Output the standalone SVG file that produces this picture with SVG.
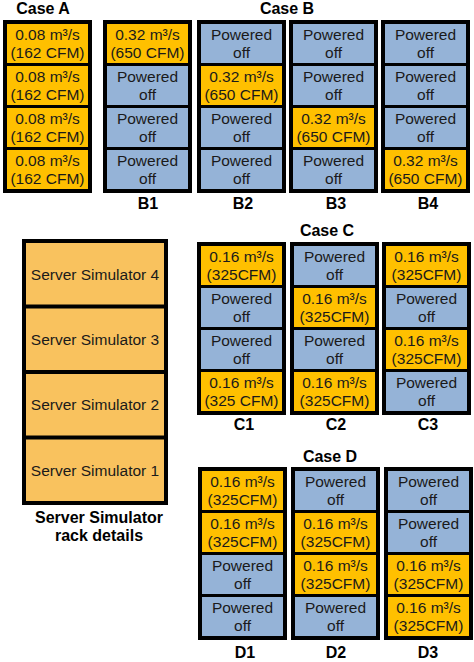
<svg xmlns="http://www.w3.org/2000/svg" width="474" height="662" viewBox="0 0 474 662">
<style>
.rack{fill:#000}
.o{fill:#FFC000}
.b{fill:#95B3D7}
.s{fill:#F9C25E}
.t{font-family:"Liberation Sans",Arial,sans-serif;font-size:15.5px;fill:#1a1a1a;text-anchor:middle}
.h{font-family:"Liberation Sans",Arial,sans-serif;font-size:16px;font-weight:bold;fill:#000;text-anchor:middle}
</style>
<rect width="474" height="662" fill="#fff"/>
<g id="titles">
<text class="h" x="43" y="14">Case A</text>
<text class="h" x="287" y="14">Case B</text>
<text class="h" x="327" y="236">Case C</text>
<text class="h" x="330" y="462">Case D</text>
<text class="h" x="148" y="209">B1</text>
<text class="h" x="243" y="209">B2</text>
<text class="h" x="336" y="209">B3</text>
<text class="h" x="428" y="209">B4</text>
<text class="h" x="244" y="430">C1</text>
<text class="h" x="336" y="430">C2</text>
<text class="h" x="428" y="430">C3</text>
<text class="h" x="245" y="658">D1</text>
<text class="h" x="336" y="658">D2</text>
<text class="h" x="428" y="658">D3</text>
<text class="h" x="99" y="523">Server Simulator</text>
<text class="h" x="99" y="541">rack details</text>
</g>
<g id="rackA">
<rect class="rack" x="3" y="20" width="89" height="173"/>
<rect class="o" x="7" y="24" width="81" height="39"/><text class="t" x="47.5" y="40">0.08 m³/s</text><text class="t" x="47.5" y="58">(162 CFM)</text>
<rect class="o" x="7" y="66" width="81" height="39"/><text class="t" x="47.5" y="82">0.08 m³/s</text><text class="t" x="47.5" y="100">(162 CFM)</text>
<rect class="o" x="7" y="108" width="81" height="39"/><text class="t" x="47.5" y="124">0.08 m³/s</text><text class="t" x="47.5" y="142">(162 CFM)</text>
<rect class="o" x="7" y="150" width="81" height="39"/><text class="t" x="47.5" y="166">0.08 m³/s</text><text class="t" x="47.5" y="184">(162 CFM)</text>
</g>
<g id="rackB1">
<rect class="rack" x="103" y="20" width="89" height="173"/>
<rect class="o" x="107" y="24" width="81" height="39"/><text class="t" x="147.5" y="40">0.32 m³/s</text><text class="t" x="147.5" y="58">(650 CFM)</text>
<rect class="b" x="107" y="66" width="81" height="39"/><text class="t" x="147.5" y="82">Powered</text><text class="t" x="147.5" y="100">off</text>
<rect class="b" x="107" y="108" width="81" height="39"/><text class="t" x="147.5" y="124">Powered</text><text class="t" x="147.5" y="142">off</text>
<rect class="b" x="107" y="150" width="81" height="39"/><text class="t" x="147.5" y="166">Powered</text><text class="t" x="147.5" y="184">off</text>
</g>
<g id="rackB2">
<rect class="rack" x="197" y="20" width="89" height="173"/>
<rect class="b" x="201" y="24" width="81" height="39"/><text class="t" x="241.5" y="40">Powered</text><text class="t" x="241.5" y="58">off</text>
<rect class="o" x="201" y="66" width="81" height="39"/><text class="t" x="241.5" y="82">0.32 m³/s</text><text class="t" x="241.5" y="100">(650 CFM)</text>
<rect class="b" x="201" y="108" width="81" height="39"/><text class="t" x="241.5" y="124">Powered</text><text class="t" x="241.5" y="142">off</text>
<rect class="b" x="201" y="150" width="81" height="39"/><text class="t" x="241.5" y="166">Powered</text><text class="t" x="241.5" y="184">off</text>
</g>
<g id="rackB3">
<rect class="rack" x="289" y="20" width="89" height="173"/>
<rect class="b" x="293" y="24" width="81" height="39"/><text class="t" x="333.5" y="40">Powered</text><text class="t" x="333.5" y="58">off</text>
<rect class="b" x="293" y="66" width="81" height="39"/><text class="t" x="333.5" y="82">Powered</text><text class="t" x="333.5" y="100">off</text>
<rect class="o" x="293" y="108" width="81" height="39"/><text class="t" x="333.5" y="124">0.32 m³/s</text><text class="t" x="333.5" y="142">(650 CFM)</text>
<rect class="b" x="293" y="150" width="81" height="39"/><text class="t" x="333.5" y="166">Powered</text><text class="t" x="333.5" y="184">off</text>
</g>
<g id="rackB4">
<rect class="rack" x="381" y="20" width="89" height="173"/>
<rect class="b" x="385" y="24" width="81" height="39"/><text class="t" x="425.5" y="40">Powered</text><text class="t" x="425.5" y="58">off</text>
<rect class="b" x="385" y="66" width="81" height="39"/><text class="t" x="425.5" y="82">Powered</text><text class="t" x="425.5" y="100">off</text>
<rect class="b" x="385" y="108" width="81" height="39"/><text class="t" x="425.5" y="124">Powered</text><text class="t" x="425.5" y="142">off</text>
<rect class="o" x="385" y="150" width="81" height="39"/><text class="t" x="425.5" y="166">0.32 m³/s</text><text class="t" x="425.5" y="184">(650 CFM)</text>
</g>
<g id="rackSim">
<rect class="rack" x="22" y="239" width="146" height="266"/>
<rect class="s" x="26" y="243" width="138" height="61.5"/><text class="t" x="95" y="280">Server Simulator 4</text>
<rect class="s" x="26" y="308.5" width="138" height="61.5"/><text class="t" x="95" y="345">Server Simulator 3</text>
<rect class="s" x="26" y="374" width="138" height="61.5"/><text class="t" x="95" y="410">Server Simulator 2</text>
<rect class="s" x="26" y="439.5" width="138" height="61.5"/><text class="t" x="95" y="476">Server Simulator 1</text>
</g>
<g id="rackC1">
<rect class="rack" x="197" y="242" width="89" height="173"/>
<rect class="o" x="201" y="246" width="81" height="39"/><text class="t" x="241.5" y="262">0.16 m³/s</text><text class="t" x="241.5" y="280">(325CFM)</text>
<rect class="b" x="201" y="288" width="81" height="39"/><text class="t" x="241.5" y="304">Powered</text><text class="t" x="241.5" y="322">off</text>
<rect class="b" x="201" y="330" width="81" height="39"/><text class="t" x="241.5" y="346">Powered</text><text class="t" x="241.5" y="364">off</text>
<rect class="o" x="201" y="372" width="81" height="39"/><text class="t" x="241.5" y="388">0.16 m³/s</text><text class="t" x="241.5" y="406">(325 CFM)</text>
</g>
<g id="rackC2">
<rect class="rack" x="290" y="242" width="89" height="173"/>
<rect class="b" x="294" y="246" width="81" height="39"/><text class="t" x="334.5" y="262">Powered</text><text class="t" x="334.5" y="280">off</text>
<rect class="o" x="294" y="288" width="81" height="39"/><text class="t" x="334.5" y="304">0.16 m³/s</text><text class="t" x="334.5" y="322">(325CFM)</text>
<rect class="b" x="294" y="330" width="81" height="39"/><text class="t" x="334.5" y="346">Powered</text><text class="t" x="334.5" y="364">off</text>
<rect class="o" x="294" y="372" width="81" height="39"/><text class="t" x="334.5" y="388">0.16 m³/s</text><text class="t" x="334.5" y="406">(325CFM)</text>
</g>
<g id="rackC3">
<rect class="rack" x="382" y="242" width="89" height="173"/>
<rect class="o" x="386" y="246" width="81" height="39"/><text class="t" x="426.5" y="262">0.16 m³/s</text><text class="t" x="426.5" y="280">(325CFM)</text>
<rect class="b" x="386" y="288" width="81" height="39"/><text class="t" x="426.5" y="304">Powered</text><text class="t" x="426.5" y="322">off</text>
<rect class="o" x="386" y="330" width="81" height="39"/><text class="t" x="426.5" y="346">0.16 m³/s</text><text class="t" x="426.5" y="364">(325CFM)</text>
<rect class="b" x="386" y="372" width="81" height="39"/><text class="t" x="426.5" y="388">Powered</text><text class="t" x="426.5" y="406">off</text>
</g>
<g id="rackD1">
<rect class="rack" x="198" y="467" width="89" height="173"/>
<rect class="o" x="202" y="471" width="81" height="39"/><text class="t" x="242.5" y="487">0.16 m³/s</text><text class="t" x="242.5" y="505">(325CFM)</text>
<rect class="o" x="202" y="513" width="81" height="39"/><text class="t" x="242.5" y="529">0.16 m³/s</text><text class="t" x="242.5" y="547">(325CFM)</text>
<rect class="b" x="202" y="555" width="81" height="39"/><text class="t" x="242.5" y="571">Powered</text><text class="t" x="242.5" y="589">off</text>
<rect class="b" x="202" y="597" width="81" height="39"/><text class="t" x="242.5" y="613">Powered</text><text class="t" x="242.5" y="631">off</text>
</g>
<g id="rackD2">
<rect class="rack" x="291" y="467" width="89" height="173"/>
<rect class="b" x="295" y="471" width="81" height="39"/><text class="t" x="335.5" y="487">Powered</text><text class="t" x="335.5" y="505">off</text>
<rect class="o" x="295" y="513" width="81" height="39"/><text class="t" x="335.5" y="529">0.16 m³/s</text><text class="t" x="335.5" y="547">(325CFM)</text>
<rect class="o" x="295" y="555" width="81" height="39"/><text class="t" x="335.5" y="571">0.16 m³/s</text><text class="t" x="335.5" y="589">(325CFM)</text>
<rect class="b" x="295" y="597" width="81" height="39"/><text class="t" x="335.5" y="613">Powered</text><text class="t" x="335.5" y="631">off</text>
</g>
<g id="rackD3">
<rect class="rack" x="384" y="467" width="89" height="173"/>
<rect class="b" x="388" y="471" width="81" height="39"/><text class="t" x="428.5" y="487">Powered</text><text class="t" x="428.5" y="505">off</text>
<rect class="b" x="388" y="513" width="81" height="39"/><text class="t" x="428.5" y="529">Powered</text><text class="t" x="428.5" y="547">off</text>
<rect class="o" x="388" y="555" width="81" height="39"/><text class="t" x="428.5" y="571">0.16 m³/s</text><text class="t" x="428.5" y="589">(325CFM)</text>
<rect class="o" x="388" y="597" width="81" height="39"/><text class="t" x="428.5" y="613">0.16 m³/s</text><text class="t" x="428.5" y="631">(325CFM)</text>
</g>
<g id="connectors"></g>
</svg>
